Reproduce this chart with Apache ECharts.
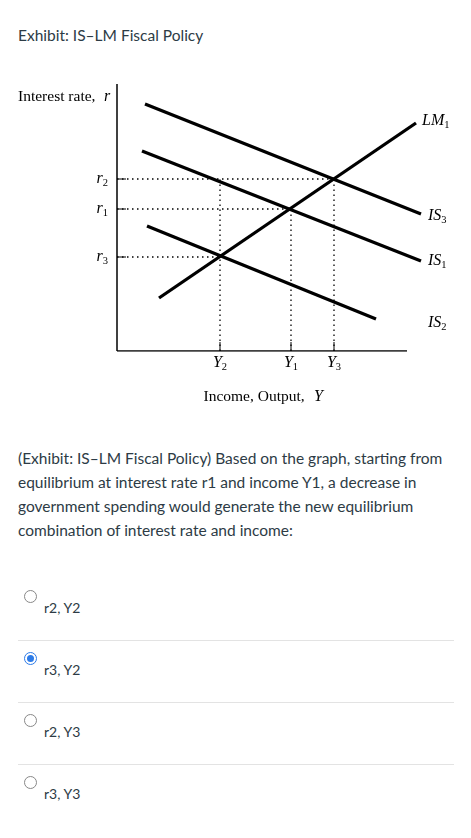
<!DOCTYPE html>
<html><head><meta charset="utf-8">
<script src="https://cdn.jsdelivr.net/npm/echarts@6/dist/echarts.min.js"></script>
<style>
body{margin:0;width:471px;height:838px;background:#fff;font-family:Lato,"Open Sans",sans-serif;color:#2d3b45;position:relative;overflow:hidden}
#c{position:absolute;left:0;top:0;width:471px;height:420px}
.t{position:absolute;left:18px;font-size:15.5px}
.q{position:absolute;left:18px;top:446px;width:434px;font-size:15.5px;line-height:24px}
.opt{position:absolute;left:44px;font-size:14px}
.rad{position:absolute;left:24px;width:11px;height:11px;border:1px solid #888;border-radius:50%;background:#fff}
.sel{border:1px solid #2d7be8;background:#fff}
.sel::after{content:"";position:absolute;left:2px;top:2px;width:7px;height:7px;border-radius:50%;background:#2d7be8}
.sep{position:absolute;left:18px;width:436px;height:1px;background:#e3e3e3}
</style></head><body>
<div class="t" style="top:26px">Exhibit: IS–LM Fiscal Policy</div>
<div id="c"></div>
<div class="q">(Exhibit: IS–LM Fiscal Policy) Based on the graph, starting from equilibrium at interest rate r1 and income Y1, a decrease in government spending would generate the new equilibrium combination of interest rate and income:</div>
<div class="rad" style="top:590px"></div><div class="opt" style="top:599px">r2, Y2</div>
<div class="sep" style="top:640px"></div>
<div class="rad sel" style="top:652px"></div><div class="opt" style="top:661px">r3, Y2</div>
<div class="sep" style="top:702px"></div>
<div class="rad" style="top:714px"></div><div class="opt" style="top:723px">r2, Y3</div>
<div class="sep" style="top:764px"></div>
<div class="rad" style="top:776px"></div><div class="opt" style="top:785px">r3, Y3</div>
<script>
// curves as [x,y] endpoints in graph units
const IS3 = [[28,247],[304,137]];
const IS1 = [[25,200],[304,90]];
const IS2 = [[30,125],[259,32]];
const LM1 = [[42,53],[299,228]];
const rLevels = {r2:172, r1:142, r3:94};
const yLevels = {Y2:103, Y1:174, Y3:217};
const axisX = [[0,0],[290,0]];
const axisY = [[0,0],[0,267]];
const dotH = [[[0,rLevels.r2],[yLevels.Y3,rLevels.r2]],[[0,rLevels.r1],[yLevels.Y1,rLevels.r1]],[[0,rLevels.r3],[yLevels.Y2,rLevels.r3]]];
const dotV = [[[yLevels.Y2,0],[yLevels.Y2,rLevels.r2]],[[yLevels.Y1,0],[yLevels.Y1,rLevels.r1]],[[yLevels.Y3,0],[yLevels.Y3,rLevels.r2]]];
const ticksX = Object.values(yLevels).map(v=>[[v,0],[v,9]]);
const ticksY = Object.values(rLevels).map(v=>[[0,v],[9,v]]);
const ch = echarts.init(document.getElementById('c'));
const S=[];
function ln(d,w,type){S.push({type:'line',data:d,symbol:'none',silent:true,lineStyle:{color:'#000',width:w,type:type||'solid'},animation:false});}
[IS3,IS1,IS2,LM1].forEach(d=>ln(d,3.3));
ln(axisX,1.5);ln(axisY,1.5);
dotH.concat(dotV).forEach(d=>ln(d,1.3,[1.5,3.5]));
ticksX.concat(ticksY).forEach(d=>ln(d,1));
const serif='"Liberation Serif","DejaVu Serif",serif';
const rich={i:{fontFamily:serif,fontStyle:'italic',fontSize:16,color:'#000'},s:{fontFamily:serif,fontSize:10.5,color:'#000',padding:[8,0,0,0]}};
function txt(x,y,t,align){return {type:'text',x:x,y:y,style:{text:t,rich:rich,align:align||'left',verticalAlign:'middle',fill:'#000'}};}
ch.setOption({
 grid:{left:117,top:84,width:320,height:267},
 xAxis:{type:'value',min:0,max:320,show:false},
 yAxis:{type:'value',min:0,max:267,show:false},
 series:S,
 graphic:[
  {type:'text',x:18,y:97,style:{text:'Interest rate, ',font:'15.5px '+serif,fill:'#000',verticalAlign:'middle'}},
  txt(104,97,'{i|r}'),
  txt(422,121,'{i|LM}{s|1}'),
  txt(428,216,'{i|IS}{s|3}'),
  txt(428,261,'{i|IS}{s|1}'),
  txt(428,323,'{i|IS}{s|2}'),
  txt(108,179,'{i|r}{s|2}','right'),
  txt(108,209,'{i|r}{s|1}','right'),
  txt(108,257,'{i|r}{s|3}','right'),
  txt(220,363,'{i|Y}{s|2}','center'),
  txt(291,363,'{i|Y}{s|1}','center'),
  txt(334,363,'{i|Y}{s|3}','center'),
  {type:'text',x:256,y:397,style:{text:'Income, Output, ',font:'15.5px '+serif,fill:'#000',align:'center',verticalAlign:'middle'}},
  txt(314,397,'{i|Y}')
 ]
});
</script></body></html>
